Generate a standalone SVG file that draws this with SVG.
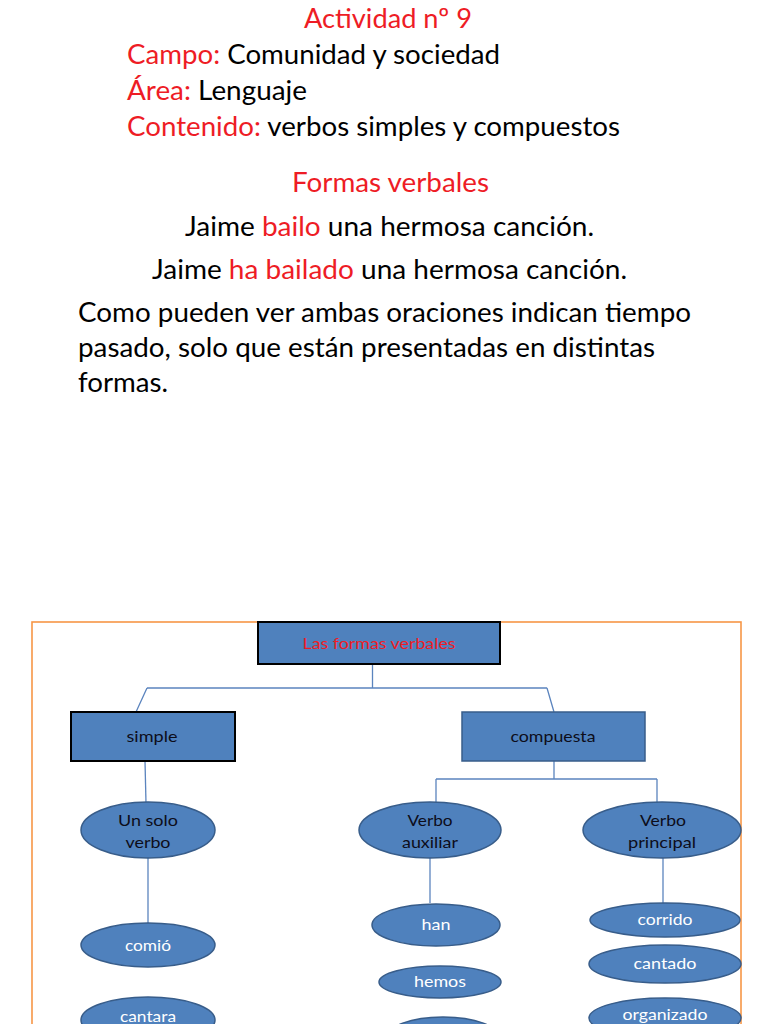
<svg xmlns="http://www.w3.org/2000/svg" width="768" height="1024" viewBox="0 0 768 1024">
<style>
.t{font-family:Lato,"Open Sans","Liberation Sans",sans-serif;font-size:27px;fill:#000}
.r{fill:#EE1C25}
.d{font-family:Lato,"Open Sans","Liberation Sans",sans-serif;font-size:16px;text-anchor:middle}
.dk{fill:#0D0D1A}
.wh{fill:#FFFFFF}
.box{fill:#4F81BD}
.ell{fill:#4F81BD;stroke:#385D8A;stroke-width:1.5}
.con{fill:none;stroke:#5B84BE;stroke-width:1.3}
</style>
<rect width="768" height="1024" fill="#FFFFFF"/>
<g id="header">
<text class="t r" x="304" y="28" textLength="168" lengthAdjust="spacingAndGlyphs">Actividad nº 9</text>
<text class="t" x="127" y="64" textLength="373" lengthAdjust="spacingAndGlyphs"><tspan class="r">Campo:</tspan> Comunidad y sociedad</text>
<text class="t" x="127" y="100" textLength="180" lengthAdjust="spacingAndGlyphs"><tspan class="r">Área:</tspan> Lenguaje</text>
<text class="t" x="127" y="136" textLength="493" lengthAdjust="spacingAndGlyphs"><tspan class="r">Contenido:</tspan> verbos simples y compuestos</text>
<text class="t r" x="292" y="192" textLength="197" lengthAdjust="spacingAndGlyphs">Formas verbales</text>
<text class="t" x="185" y="236" textLength="409" lengthAdjust="spacingAndGlyphs">Jaime <tspan class="r">bailo</tspan> una hermosa canción.</text>
<text class="t" x="152" y="279" textLength="475" lengthAdjust="spacingAndGlyphs">Jaime <tspan class="r">ha bailado</tspan> una hermosa canción.</text>
<text class="t" x="78" y="322" textLength="613" lengthAdjust="spacingAndGlyphs">Como pueden ver ambas oraciones indican tiempo</text>
<text class="t" x="78" y="357" textLength="577" lengthAdjust="spacingAndGlyphs">pasado, solo que están presentadas en distintas</text>
<text class="t" x="78" y="392" textLength="90" lengthAdjust="spacingAndGlyphs">formas.</text>
</g>
<rect id="frame" x="32" y="622" width="709" height="420" fill="none" stroke="#F79646" stroke-width="1.6"/>
<g id="connectors">
<path class="con" d="M372.5 664 V688 M147 688 H547 M147 688 L136 712 M547 688 L554 712"/>
<path class="con" d="M145 761 L146 803"/>
<path class="con" d="M554 761 V779 M436 779 H657 M436 779 V803 M657 779 V803"/>
<path class="con" d="M148 858 V923"/>
<path class="con" d="M430 858 V903"/>
<path class="con" d="M663 858 V903"/>
</g>
<g id="n-root">
<rect class="box" x="258" y="622" width="242" height="42" stroke="#000" stroke-width="2"/>
<text class="d r" x="379" y="649" textLength="153" lengthAdjust="spacingAndGlyphs">Las formas verbales</text>
</g>
<g id="n-simple">
<rect class="box" x="71" y="712" width="164" height="49" stroke="#000" stroke-width="2"/>
<text class="d dk" x="152" y="742" textLength="51" lengthAdjust="spacingAndGlyphs">simple</text>
</g>
<g id="n-compuesta">
<rect class="box" x="462" y="712" width="183" height="49" stroke="#385D8A" stroke-width="1.5"/>
<text class="d dk" x="553" y="742" textLength="85" lengthAdjust="spacingAndGlyphs">compuesta</text>
</g>
<g id="n-unsolo">
<ellipse class="ell" cx="148" cy="830" rx="67" ry="28"/>
<text class="d dk" x="148" y="826" textLength="60" lengthAdjust="spacingAndGlyphs">Un solo</text>
<text class="d dk" x="148" y="848" textLength="45" lengthAdjust="spacingAndGlyphs">verbo</text>
</g>
<g id="n-auxiliar">
<ellipse class="ell" cx="430" cy="830" rx="71" ry="28"/>
<text class="d dk" x="430" y="826" textLength="45" lengthAdjust="spacingAndGlyphs">Verbo</text>
<text class="d dk" x="430" y="848" textLength="56" lengthAdjust="spacingAndGlyphs">auxiliar</text>
</g>
<g id="n-principal">
<ellipse class="ell" cx="662" cy="830" rx="79" ry="28"/>
<text class="d dk" x="663" y="826" textLength="46" lengthAdjust="spacingAndGlyphs">Verbo</text>
<text class="d dk" x="662" y="848" textLength="68" lengthAdjust="spacingAndGlyphs">principal</text>
</g>
<g id="n-comio">
<ellipse class="ell" cx="148" cy="945" rx="67" ry="22"/>
<text class="d wh" x="148" y="951" textLength="46" lengthAdjust="spacingAndGlyphs">comió</text>
</g>
<g id="n-cantara">
<ellipse class="ell" cx="148" cy="1020" rx="67" ry="23"/>
<text class="d wh" x="148" y="1022" textLength="56" lengthAdjust="spacingAndGlyphs">cantara</text>
</g>
<g id="n-han">
<ellipse class="ell" cx="436" cy="925" rx="64" ry="21"/>
<text class="d wh" x="436" y="930" textLength="29" lengthAdjust="spacingAndGlyphs">han</text>
</g>
<g id="n-hemos">
<ellipse class="ell" cx="440" cy="982" rx="61" ry="16"/>
<text class="d wh" x="440" y="987" textLength="52" lengthAdjust="spacingAndGlyphs">hemos</text>
</g>
<g id="n-bottom">
<ellipse class="ell" cx="443" cy="1038" rx="57" ry="21"/>
</g>
<g id="n-corrido">
<ellipse class="ell" cx="665" cy="920" rx="75" ry="17"/>
<text class="d wh" x="665" y="925" textLength="55" lengthAdjust="spacingAndGlyphs">corrido</text>
</g>
<g id="n-cantado">
<ellipse class="ell" cx="665" cy="964" rx="76" ry="19"/>
<text class="d wh" x="665" y="969" textLength="63" lengthAdjust="spacingAndGlyphs">cantado</text>
</g>
<g id="n-organizado">
<ellipse class="ell" cx="665" cy="1018" rx="76" ry="20"/>
<text class="d wh" x="665" y="1020" textLength="85" lengthAdjust="spacingAndGlyphs">organizado</text>
</g>
</svg>
